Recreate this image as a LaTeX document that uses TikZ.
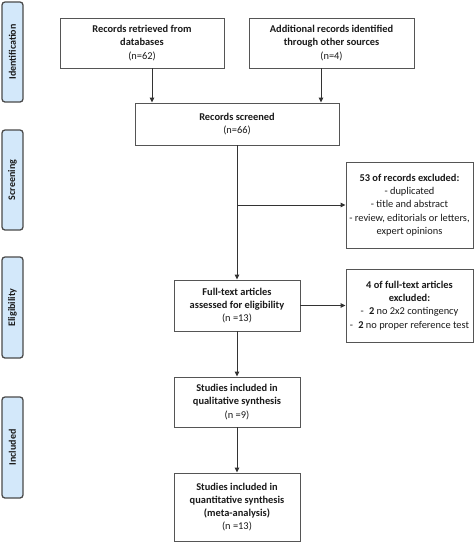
\documentclass[tikz,border=0pt]{standalone}
\usepackage{fontspec}
\setmainfont{Carlito}
\usetikzlibrary{arrows.meta,calc}
\definecolor{boxline}{HTML}{555555}
\definecolor{arrline}{HTML}{333333}
\definecolor{sidefill}{HTML}{D3E8FA}
\definecolor{sideline}{HTML}{4A4A4A}
\definecolor{txt}{HTML}{1A1A1A}
\tikzset{
  flowbox/.style={draw=boxline, line width=0.9pt, fill=white, align=center, text=txt,
    font=\fontsize{10.4}{13.2}\selectfont, inner sep=1pt},
  sidebox/.style={draw=sideline, line width=1.3pt, fill=sidefill, rounded corners=3pt,
    minimum width=21pt, text=txt, font=\bfseries\fontsize{10}{11}\selectfont, inner sep=0pt},
  arr/.style={draw=arrline, line width=1pt, -{Triangle[length=5pt,width=4.5pt]}},
  plainline/.style={draw=arrline, line width=1pt}
}
\begin{document}
\begin{tikzpicture}[x=1pt,y=-1pt]
\useasboundingbox (0,0) rectangle (474,542);
% side labels
\node[sidebox, minimum height=100pt] (sid) at (12.5,52) {\rotatebox{90}{Identification}};
\node[sidebox, minimum height=100pt] (ssc) at (12.5,180) {\rotatebox{90}{Screening}};
\node[sidebox, minimum height=101pt] (sel) at (12.5,307.5) {\rotatebox{90}{Eligibility}};
\node[sidebox, minimum height=101pt] (sin) at (12.5,447.5) {\rotatebox{90}{Included}};
% flow boxes
\node[flowbox, minimum width=164pt, minimum height=50pt] (b1) at (142,43)
  {\textbf{Records retrieved from}\\\textbf{databases}\\(n=62)};
\node[flowbox, minimum width=165pt, minimum height=50pt] (b2) at (331.5,43)
  {\textbf{Additional records identified}\\\textbf{through other sources}\\(n=4)};
\node[flowbox, minimum width=204pt, minimum height=42pt] (sc) at (237,124)
  {\textbf{Records screened}\\(n=66)};
\node[flowbox, minimum width=127pt, minimum height=86pt] (ex1) at (409.5,205)
  {\textbf{53 of records excluded:}\\- duplicated\\- title and abstract\\- review, editorials or letters,\\expert opinions};
\node[flowbox, minimum width=126pt, minimum height=51pt] (ft) at (237,305.5)
  {\textbf{Full-text articles}\\\textbf{assessed for eligibility}\\(n =13)};
\node[flowbox, minimum width=127pt, minimum height=73pt] (ex2) at (409.5,305.5)
  {\textbf{4 of full-text articles}\\\textbf{excluded:}\\-\enspace\textbf{2} no 2x2 contingency\\-\enspace\textbf{2} no proper reference test};
\node[flowbox, minimum width=126pt, minimum height=50pt] (q1) at (237,402)
  {\textbf{Studies included in}\\\textbf{qualitative synthesis}\\(n =9)};
\node[flowbox, minimum width=126pt, minimum height=68pt] (q2) at (237,507)
  {\textbf{Studies included in}\\\textbf{quantitative synthesis}\\\textbf{(meta-analysis)}\\(n =13)};
% connectors
\draw[arr] ([xshift=10pt]b1.south) -- ([xshift=10pt]b1.south |- sc.north);
\draw[arr] ([xshift=-10.5pt]b2.south) -- ([xshift=-10.5pt]b2.south |- sc.north);
\draw[arr] (sc.south) -- (ft.north);
\coordinate (br) at (sc.south |- ex1.west);
\draw[arr] (br) -- (ex1.west);
\draw[arr] (ft.east) -- (ex2.west);
\draw[arr] (ft.south) -- (q1.north);
\draw[arr] (q1.south) -- (q2.north);
\end{tikzpicture}
\end{document}
